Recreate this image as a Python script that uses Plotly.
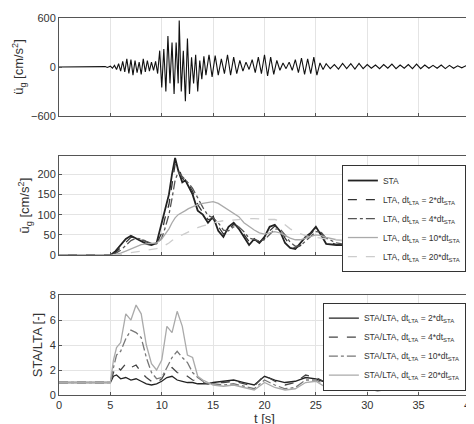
import plotly.graph_objects as go

t_sig = [0,4,4.5,4.7,5,5.2,5.4,5.6,5.8,6,6.2,6.4,6.6,6.8,7,7.2,7.4,7.6,7.8,8,8.2,8.4,8.6,8.8,9,9.2,9.4,9.6,9.8,10,10.2,10.4,10.6,10.8,11,11.2,11.4,11.6,11.7,11.9,12.1,12.3,12.5,12.7,12.9,13.1,13.3,13.5,13.7,13.9,14.1,14.3,14.6,14.9,15.2,15.5,15.8,16.1,16.4,16.7,17,17.3,17.6,17.9,18.2,18.5,18.8,19.1,19.4,19.7,20,20.3,20.6,20.9,21.2,21.5,21.8,22.1,22.4,22.7,23,23.3,23.6,23.9,24.2,24.5,24.8,25.1,25.4,25.7,26,26.4,26.8,27.2,27.6,28,28.4,28.8,29.2,29.6,30,30.4,30.8,31.2,31.6,32,32.4,32.8,33.2,33.6,34,34.4,34.8,35.2,35.6,36,36.4,36.8,37.2,37.6,38,38.4,38.8,39.2,39.6,40]
a_sig = [0,0,5,-5,10,-15,20,-30,40,-50,70,-60,100,-80,90,-100,80,-70,60,-90,100,-60,80,-50,60,-40,70,-80,200,-250,220,-300,380,-200,300,-330,300,-200,570,-300,200,-420,350,-330,120,-200,150,-300,80,-150,130,-100,150,-120,140,-100,100,-80,150,-100,120,-80,80,-50,60,-30,90,-70,120,-80,150,-110,120,-90,80,-40,50,-20,60,-40,90,-70,110,-90,100,-80,120,-100,50,-30,40,-20,30,-25,45,-20,40,-25,45,-20,30,-15,25,-20,30,-15,35,-20,25,-15,30,-20,35,-20,25,-15,20,-15,25,-20,20,-15,15,-10,15,0]

t_avg = [0,5,5.5,6,6.5,7,7.5,8,8.5,9,9.5,10,10.3,10.7,11,11.3,11.6,12,12.3,12.6,13,13.5,14,14.5,15,15.5,16,16.5,17,17.5,18,18.5,19,19.5,20,20.5,21,21.5,22,22.5,23,23.5,24,24.5,25,25.5,26,27,28,29,30,31,32,33,34,35,36,37,38,39,40]
sta = [0,0,10,25,40,48,42,35,28,25,30,80,110,150,200,240,210,180,185,170,150,110,100,80,95,60,45,70,80,65,45,25,40,30,45,70,75,60,30,18,15,30,45,55,70,50,28,25,25,28,15,10,15,12,18,12,15,12,8,10,5]
lta2 = [0,0,6,18,32,44,44,38,31,27,28,55,90,125,175,225,220,190,182,175,158,125,105,88,90,72,52,62,76,70,52,33,36,33,40,60,72,65,42,24,17,24,40,52,65,56,35,26,25,27,18,12,14,13,16,13,14,13,9,10,6]
lta4 = [0,0,4,12,24,36,42,40,34,29,28,42,65,100,140,185,205,195,185,178,165,140,118,98,92,80,62,60,70,70,58,42,38,35,38,50,64,65,50,32,22,23,34,46,58,57,42,30,26,26,20,14,14,13,15,13,14,13,10,10,7]
lta10 = [0,0,2,5,10,16,22,26,28,29,30,40,50,65,80,92,100,105,110,115,120,125,128,130,132,128,120,112,105,95,80,70,62,55,52,55,58,55,48,42,38,38,42,46,50,48,44,38,34,32,28,24,22,20,20,18,17,15,13,12,11]
lta20 = [0,0,1,2,4,6,8,10,12,14,16,20,24,30,36,42,46,50,54,58,62,68,72,76,80,83,85,86,88,89,90,90,90,89,88,88,88,85,75,65,58,52,48,45,44,42,40,38,36,34,32,28,26,24,22,20,18,16,14,13,12]

t_rat = [0,5,5.3,5.6,6,6.5,7,7.5,8,8.5,9,9.5,10,10.5,11,11.5,12,12.5,13,13.5,14,14.5,15,16,17,18,19,20,21,22,23,24,25,26,27,28,29,30,31,32,33,34,35,36,37,38,39,40]
r2 = [1,1,1.5,1.6,1.3,1.4,1.2,1.3,1.1,0.9,0.8,0.9,1.1,1.4,1.5,1.2,1.1,1.0,1.0,0.9,0.9,0.9,1.0,1.1,1.2,1.0,0.8,1.5,1.2,1.0,1.1,1.4,1.3,1.0,1.1,1.1,1.0,1.0,0.8,1.0,1.3,1.1,1.4,1.2,1.1,1.0,1.1,0.9]
r4 = [1,1,1.8,2.3,2.0,2.5,2.2,2.4,1.8,1.4,1.1,1.0,1.3,2.0,2.2,1.8,1.7,1.5,1.2,1.1,1.0,0.9,1.0,1.0,1.1,0.9,0.7,1.6,1.1,0.8,1.0,1.6,1.4,1.0,1.0,0.9,1.0,0.9,0.6,0.9,1.6,1.0,1.5,1.0,1.0,0.8,0.9,0.7]
r10 = [1,1,2.2,3.2,3.5,4.5,5.2,5.0,4.6,3.0,1.8,1.3,1.4,2.2,3.0,3.5,3.0,2.6,1.8,1.4,1.1,0.9,0.9,0.8,0.9,0.7,0.5,1.2,0.8,0.5,0.6,1.2,1.2,0.8,0.7,0.7,0.8,0.7,0.4,0.6,1.1,0.7,1.2,0.8,0.7,0.6,0.6,0.5]
r20 = [1,1,2.8,3.8,4.2,6.5,6.0,7.2,6.5,4.0,2.5,2.0,2.8,5.5,5.0,6.7,5.5,3.2,3.0,1.5,1.2,1.0,0.8,0.7,0.8,0.6,0.4,1.0,0.6,0.4,0.5,1.0,1.1,0.6,0.6,0.6,0.7,0.6,0.3,0.5,0.9,0.6,1.0,0.6,0.6,0.5,0.5,0.4]

fig = go.Figure()
fig.add_trace(go.Scatter(x=t_sig, y=a_sig, mode="lines", line=dict(color="#111", width=1.1),
                         name="Seismic signal", xaxis="x", yaxis="y", legend="legend"))
mid = [("STA", sta, "#222", "solid", 1.8),
       ("LTA, dt<sub>LTA</sub> = 2*dt<sub>STA</sub>", lta2, "#333", "dash", 1.3),
       ("LTA, dt<sub>LTA</sub> = 4*dt<sub>STA</sub>", lta4, "#555", "dashdot", 1.3),
       ("LTA, dt<sub>LTA</sub> = 10*dt<sub>STA</sub>", lta10, "#aaa", "solid", 1.3),
       ("LTA, dt<sub>LTA</sub> = 20*dt<sub>STA</sub>", lta20, "#ccc", "dash", 1.3)]
for n, v, c, d, w in mid:
    fig.add_trace(go.Scatter(x=t_avg, y=v, mode="lines", name=n, line=dict(color=c, dash=d, width=w),
                             xaxis="x2", yaxis="y2", legend="legend2"))
bot = [("STA/LTA, dt<sub>LTA</sub> = 2*dt<sub>STA</sub>", r2, "#222", "solid"),
       ("STA/LTA, dt<sub>LTA</sub> = 4*dt<sub>STA</sub>", r4, "#444", "dash"),
       ("STA/LTA, dt<sub>LTA</sub> = 10*dt<sub>STA</sub>", r10, "#777", "dashdot"),
       ("STA/LTA, dt<sub>LTA</sub> = 20*dt<sub>STA</sub>", r20, "#aaa", "solid")]
for n, v, c, d in bot:
    fig.add_trace(go.Scatter(x=t_rat, y=v, mode="lines", name=n, line=dict(color=c, dash=d, width=1.3),
                             xaxis="x3", yaxis="y3", legend="legend3"))

ax = dict(range=[0, 40], dtick=5, showgrid=True, gridcolor="#e4e4e4", linecolor="#555", mirror=True,
          ticks="inside", ticklen=3, tickcolor="#555", zeroline=False, automargin=False)
fig.update_layout(
    width=474, height=424, paper_bgcolor="white", plot_bgcolor="white",
    font=dict(family="Liberation Sans, Arial", size=11, color="#333"),
    margin=dict(l=51, r=12, t=10, b=37, autoexpand=False),
    xaxis=dict(ax, domain=[0, 1], anchor="y", showticklabels=False),
    xaxis2=dict(ax, domain=[0, 1], anchor="y2", showticklabels=False),
    xaxis3=dict(ax, domain=[0, 1], anchor="y3", title=dict(text="t [s]", standoff=2)),
    yaxis=dict(ax, domain=[0.74, 1], range=[-600, 600], tickvals=[-600, 0, 600], showgrid=False,
               title=dict(text="ü<sub>g</sub> [cm/s<sup>2</sup>]", standoff=4)),
    yaxis2=dict(ax, domain=[0.371, 0.634], range=[0, 245], dtick=50,
                title=dict(text="ū<sub>g</sub> [cm/s<sup>2</sup>]", standoff=4)),
    yaxis3=dict(ax, domain=[0, 0.265], range=[0, 8], dtick=2,
                title=dict(text="STA/LTA [-]", standoff=4)),
    legend=dict(x=0.99, y=0.975, xanchor="right", yanchor="top", bordercolor="#333", borderwidth=1,
                bgcolor="white", font=dict(size=9)),
    legend2=dict(x=0.99, y=0.61, xanchor="right", yanchor="top", bordercolor="#333", borderwidth=1,
                 bgcolor="white", font=dict(size=8.5), tracegroupgap=0, itemwidth=30),
    legend3=dict(x=0.99, y=0.245, xanchor="right", yanchor="top", bordercolor="#333", borderwidth=1,
                 bgcolor="white", font=dict(size=8.5), tracegroupgap=0, itemwidth=30),
)
fig.write_html("out.html")
